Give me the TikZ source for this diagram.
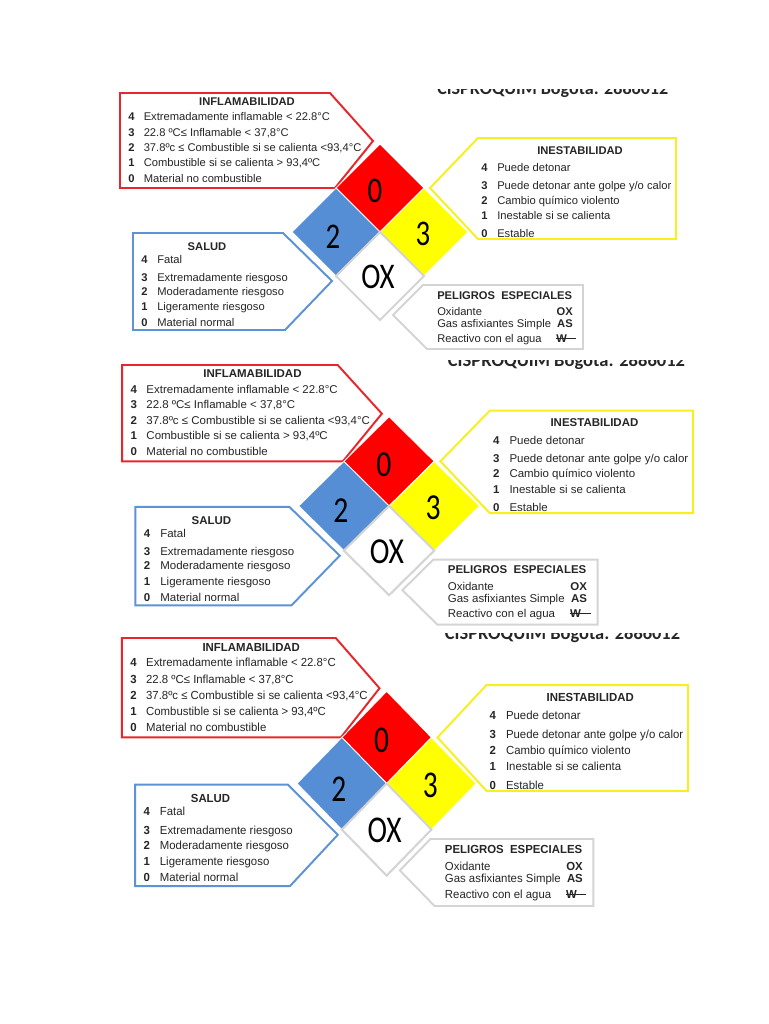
\documentclass[tikz,border=0pt]{standalone}
\usepackage{fontspec}
\setmainfont{Liberation Sans}
\newfontfamily\headfont{Carlito}
\newfontfamily\bigfont[FakeStretch=0.8]{Carlito}
\usetikzlibrary{calc}
\definecolor{cFlam}{HTML}{FF0000}
\definecolor{cFlamLine}{HTML}{E8262B}
\definecolor{cHealth}{HTML}{558ED5}
\definecolor{cHealthLine}{HTML}{5B93D6}
\definecolor{cInst}{HTML}{FFFF00}
\definecolor{cInstLine}{HTML}{F7F01E}
\definecolor{cSpec}{HTML}{D4D4D4}
\definecolor{cInk}{HTML}{262626}

\tikzset{
  txt/.style={anchor=base west, inner sep=0pt, text=cInk,
              font=\fontsize{8.05}{9}\selectfont},
  lvl/.style={txt, font=\fontsize{8.05}{9}\selectfont\bfseries},
  ttl/.style={anchor=base, inner sep=0pt, text=cInk,
              font=\fontsize{8.05}{9}\selectfont\bfseries},
  sym/.style={anchor=base east, inner sep=0pt, text=cInk,
              font=\fontsize{8.05}{9}\selectfont\bfseries},
  hdr/.style={anchor=base west, inner sep=0pt, text=cInk,
              font=\headfont\fontsize{13}{13}\selectfont\bfseries},
  big/.style={inner sep=0pt, text=black,
              font=\bigfont\fontsize{26}{26}\selectfont},
  box/.style={line width=1.4pt, fill=white, line join=miter},
  sq/.style={draw=white, line width=0.6pt},
}

% one complete label, in pixel units of the first copy
\newcommand{\nfpalabel}{%
  % header line, cut off at the top
  \begin{scope}
    \clip (420,89) rectangle (700,102);
    \node[hdr] (head) at (437,94.5) {CISPROQUIM Bogotá: 2886012};
  \end{scope}
  % ---- boxes ----
  \draw[box, draw=cFlamLine] (120,93) -- (330,93) -- (373,141) -- (335,188) -- (120,188) -- cycle;
  \draw[box, draw=cInstLine] (430,188) -- (478,138) -- (676,138) -- (676,239) -- (478,239) -- cycle;
  \draw[box, draw=cHealthLine] (133,233) -- (283,233) -- (332,281) -- (285,330) -- (133,330) -- cycle;
  \draw[box, draw=cSpec] (393,315) -- (423,285) -- (583,285) -- (583,349) -- (427,349) -- cycle;
  % ---- diamond ----
  \draw[sq, fill=cFlam] (380,144) -- (424,188) -- (380,232) -- (336,188) -- cycle;
  \draw[sq, fill=cHealth] (336,188) -- (380,232) -- (336,276) -- (292,232) -- cycle;
  \draw[sq, fill=cInst] (424,188) -- (468,232) -- (424,276) -- (380,232) -- cycle;
  \draw[fill=white, draw=cSpec, line width=1.5pt] (380,232) -- (424,276) -- (380,320) -- (336,276) -- cycle;
  \node[big] (flam) at (375,191) {0};
  \node[big] (health) at (333,237) {2};
  \node[big] (inst) at (423,234) {3};
  \node[big] (spec) at (378,277) {OX};
  % ---- inflamabilidad ----
  \node[ttl] (flamttl) at (247,105.5) {INFLAMABILIDAD};
  \foreach \n/\y/\t in {4/120.7/{Extremadamente inflamable < 22.8°C},
                        3/136.1/{22.8 ºC≤ Inflamable < 37,8°C},
                        2/151.5/{37.8ºc ≤ Combustible si se calienta <93,4°C},
                        1/166.9/{Combustible si se calienta > 93,4ºC},
                        0/182.3/{Material no combustible}}{
    \node[lvl] (fn\n) at (128,\y) {\n};
    \node[txt] (ft\n) at (143.5,\y) {\t};
  }
  % ---- inestabilidad ----
  \node[ttl] (instttl) at (580,154) {INESTABILIDAD};
  \foreach \n/\y/\t in {4/171.3/{Puede detonar},
                        3/189/{Puede detonar ante golpe y/o calor},
                        2/204/{Cambio químico violento},
                        1/219.7/{Inestable si se calienta},
                        0/237.3/{Estable}}{
    \node[lvl] (in\n) at (481,\y) {\n};
    \node[txt] (it\n) at (497,\y) {\t};
  }
  % ---- salud ----
  \node[ttl] (healthttl) at (207,250) {SALUD};
  \foreach \n/\y/\t in {4/263/{Fatal},
                        3/281/{Extremadamente riesgoso},
                        2/295/{Moderadamente riesgoso},
                        1/310/{Ligeramente riesgoso},
                        0/326/{Material normal}}{
    \node[lvl] (hn\n) at (141,\y) {\n};
    \node[txt] (ht\n) at (157,\y) {\t};
  }
  % ---- peligros especiales ----
  \node[lvl] (specttl) at (437,299) {PELIGROS\ \ ESPECIALES};
  \node[txt] (ox) at (437,315) {Oxidante};
  \node[sym] (oxs) at (573,315) {OX};
  \node[txt] (as) at (437,327) {Gas asfixiantes Simple};
  \node[sym] (ass) at (573,327) {AS};
  \node[txt] (w) at (437,342) {Reactivo con el agua};
  \node[sym, anchor=base west] (ws) at (556,342) {W};
  \draw[cInk, line width=0.7pt] (ws.west) -- ($(ws.east)+(9,0)$);
}

\begin{document}
\begin{tikzpicture}[x=0.72pt, y=-0.72pt]
\useasboundingbox (0,0) rectangle (768,1024);
\begin{scope}[name prefix=a-]
  \nfpalabel
\end{scope}
\begin{scope}[name prefix=b-, shift={(-1.2,270.7)}, xscale=1.027, yscale=1.014, transform shape]
  \nfpalabel
\end{scope}
\begin{scope}[name prefix=c-, shift={(-0.2,540.6)}, xscale=1.018, yscale=1.047, transform shape]
  \nfpalabel
\end{scope}
\end{tikzpicture}
\end{document}
